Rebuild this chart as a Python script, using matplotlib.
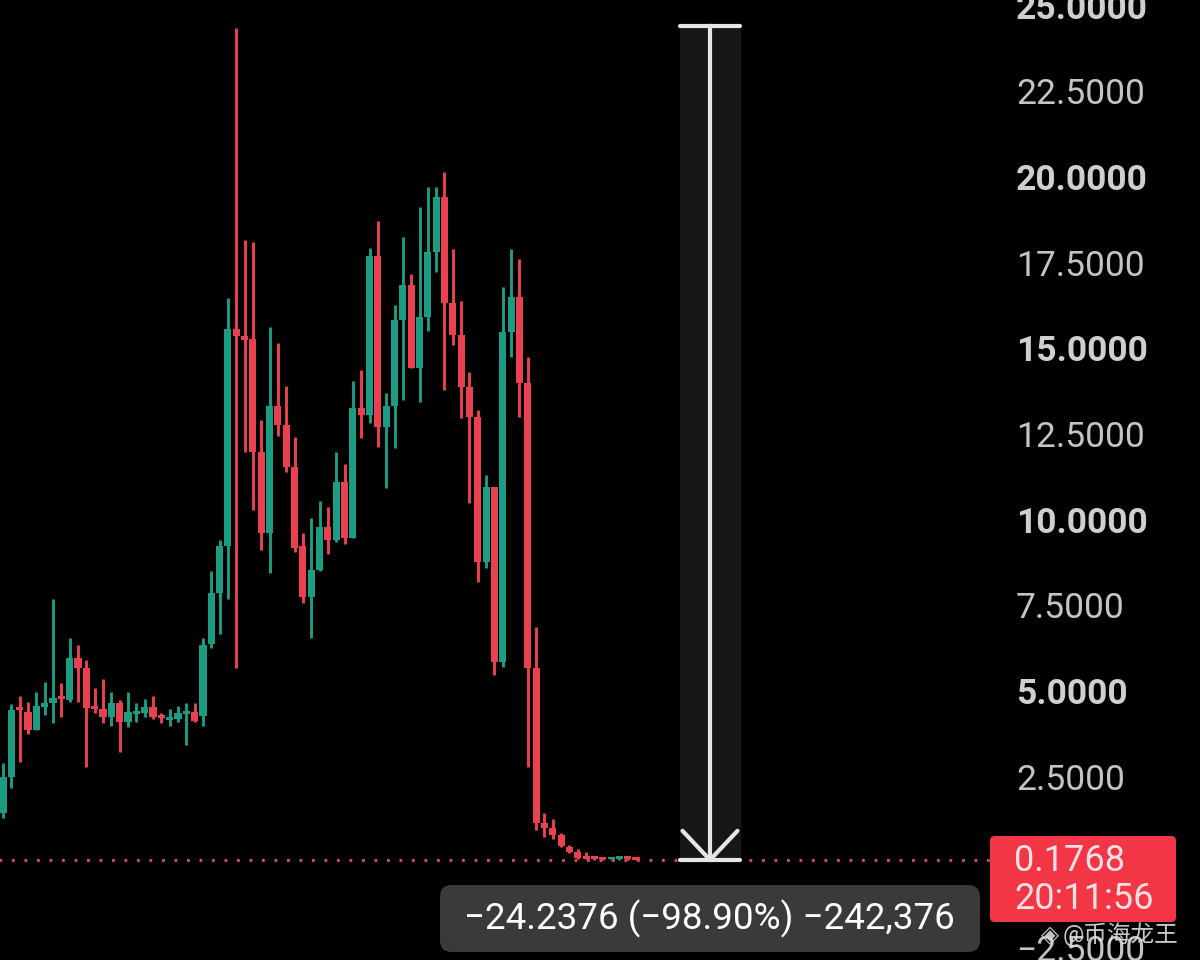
import numpy as np
import matplotlib.pyplot as plt
from matplotlib.patches import Rectangle, FancyBboxPatch
import matplotlib.transforms as mtransforms

plt.rcParams['font.family'] = ['Roboto', 'Noto Sans CJK SC', 'DejaVu Sans']

# OHLC (une bougie par pas)
opens = [1.55, 2.6, 4.6, 4.5, 3.97, 4.64, 4.76, 4.93, 4.85, 6.07,
         5.78, 4.67, 4.58, 4.35, 4.76, 4.2, 4.44, 4.47, 4.64, 4.4,
         4.26, 4.29, 4.44, 4.5, 4.38, 6.48, 7.97, 9.34, 15.68, 15.47,
         15.39, 12.09, 9.72, 13.43, 12.88, 11.65, 9.34, 7.85, 8.64, 9.9,
         9.52, 11.21, 9.58, 13.37, 13.17, 17.81, 12.82, 13.43, 15.94, 16.96,
         14.54, 16.03, 17.93, 19.53, 16.44, 15.5, 13.99, 13.11, 8.88, 11.07,
         5.96, 15.59, 16.61, 14.1, 5.78, 1.26, 1.11, 0.9, 0.55, 0.41,
         0.25, 0.21, 0.2, 0.19, 0.2, 0.21, 0.2]
closes = [2.6, 4.55, 4.55, 3.97, 4.67, 4.76, 4.9, 4.88, 6.07, 5.78,
          4.61, 4.58, 4.35, 4.76, 4.2, 4.5, 4.5, 4.64, 4.35, 4.32,
          4.35, 4.47, 4.5, 4.23, 6.45, 7.97, 9.34, 15.68, 15.47, 15.35,
          12.09, 9.72, 13.43, 12.88, 11.65, 9.28, 7.85, 8.64, 9.9, 9.52,
          11.21, 9.58, 13.37, 13.17, 17.81, 12.82, 13.43, 15.94, 16.96, 14.54,
          16.03, 17.93, 19.53, 16.44, 15.5, 13.99, 13.11, 8.88, 11.07, 5.96,
          15.59, 16.61, 14.1, 5.78, 1.26, 1.11, 0.9, 0.58, 0.41, 0.23,
          0.21, 0.2, 0.19, 0.2, 0.21, 0.2, 0.1768]
highs = [3.0, 4.73, 4.96, 4.79, 5.08, 5.37, 7.8, 5.34, 6.66, 6.45,
         6.01, 5.2, 5.46, 5.08, 4.85, 5.08, 4.76, 4.88, 4.96, 4.47,
         4.58, 4.67, 4.76, 4.76, 6.66, 8.6, 9.5, 16.58, 24.44, 18.28,
         18.2, 13.0, 15.74, 15.27, 14.0, 12.52, 9.72, 10.16, 10.66, 10.48,
         12.09, 11.74, 14.16, 14.48, 18.04, 18.83, 13.81, 16.38, 18.36, 17.28,
         19.24, 19.82, 19.8, 20.26, 17.99, 16.5, 14.42, 13.31, 11.42, 11.07,
         16.9, 18.01, 17.72, 14.86, 6.98, 1.55, 1.37, 0.95, 0.6, 0.5,
         0.42, 0.24, 0.22, 0.21, 0.22, 0.22, 0.21]
lows = [1.4, 2.28, 3.04, 3.85, 3.97, 4.41, 4.17, 4.35, 4.79, 4.79,
        2.89, 4.47, 4.17, 4.09, 3.33, 4.06, 4.2, 4.35, 4.3, 4.17,
        4.09, 4.2, 3.53, 4.2, 4.09, 6.36, 6.77, 7.8, 5.78, 12.09,
        10.4, 9.23, 8.55, 12.55, 11.5, 9.17, 7.68, 6.66, 8.6, 9.1,
        9.45, 9.4, 9.58, 12.5, 12.93, 12.23, 11.04, 12.2, 13.6, 14.54,
        13.55, 15.62, 17.34, 13.9, 15.21, 13.08, 10.6, 8.29, 8.7, 5.58,
        5.8, 14.86, 13.11, 2.89, 1.05, 0.85, 0.8, 0.55, 0.38, 0.2,
        0.19, 0.18, 0.17, 0.17, 0.18, 0.18, 0.17]

tick_values = [25, 22.5, 20, 17.5, 15, 12.5, 10, 7.5, 5, 2.5, -2.5]
tick_labels = ['25.0000', '22.5000', '20.0000', '17.5000', '15.0000', '12.5000',
               '10.0000', '7.5000', '5.0000', '2.5000', '\u22122.5000']
tick_bold = [True, False, True, False, True, False, True, False, True, False, False]

last_price = 0.1768
last_time = '20:11:56'
move = -24.2376
move_label = '\u221224.2376 (\u221298.90%) \u2212242,376'
watermark = '@币海龙王'

UP = '#1c9c82'
DOWN = '#ea4150'

fig = plt.figure(figsize=(12, 9.6), dpi=100, facecolor='black')
ax = fig.add_axes([0, 0, 1, 1])
ax.set_facecolor('black')
step = 8.33
ax.set_xlim(-3 / step, (1200 - 3) / step)
ax.set_ylim((866 - 960) / 34.27, 866 / 34.27)
ax.axis('off')

x = np.arange(len(opens))
o = np.array(opens)
c = np.array(closes)
colors = [UP if cc >= oo else DOWN for oo, cc in zip(o, c)]
ax.vlines(x, lows, highs, colors=colors, lw=2.1, zorder=2)
body_h = np.maximum(np.abs(c - o), 0.08)
ax.bar(x, body_h, bottom=np.minimum(o, c), width=0.86, color=colors, zorder=3)

# ligne pointillée du dernier prix
ax.plot([-1, 990 / step], [last_price, last_price], color='#e0505c', lw=2,
        ls=(0, (1, 3.5)), zorder=1)

# outil de mesure
x0, x1 = (680 - 3) / step, (740 - 3) / step
xm = (x0 + x1) / 2
top = last_price - move
ax.add_patch(Rectangle((x0, last_price), x1 - x0, top - last_price + 0.1,
                       color='#171717', zorder=4))
wc = '#e6e6e6'
ax.plot([x0, x1], [top + 0.1, top + 0.1], color=wc, lw=3, solid_capstyle='round', zorder=5)
ax.plot([x0, x1], [last_price, last_price], color=wc, lw=3, solid_capstyle='round', zorder=5)
ax.plot([xm, xm], [last_price, top + 0.1], color=wc, lw=3, zorder=5)
ax.plot([x0 + 0.3, xm, x1 - 0.3], [last_price + 0.85, last_price, last_price + 0.85],
        color=wc, lw=3, solid_capstyle='round', zorder=5)

# étiquettes de l'axe des prix
trans = mtransforms.blended_transform_factory(ax.transAxes, ax.transData)
for v, lab, b in zip(tick_values, tick_labels, tick_bold):
    ax.text(1016 / 1200, v, lab, transform=trans, ha='left', va='center',
            fontsize=25.5, color='#cfcfcf' if b else '#c4c4c4',
            fontweight='bold' if b else 'normal', zorder=6)

# boîte du résultat de la mesure
box = FancyBboxPatch((440 / 1200, 1 - 952 / 960), 540 / 1200, 67 / 960,
                     boxstyle='round,pad=0,rounding_size=0.01', mutation_aspect=1.25,
                     transform=fig.transFigure, facecolor='#3a3a3a', edgecolor='none',
                     zorder=7)
fig.patches.append(box)
fig.text(709 / 1200, 1 - 919 / 960, move_label, ha='center', va='center',
         fontsize=26.5, color='white', zorder=8)

# étiquette du dernier prix
lbl = FancyBboxPatch((990 / 1200, 1 - 922 / 960), 186 / 1200, 86 / 960,
                     boxstyle='round,pad=0,rounding_size=0.004', mutation_aspect=1.25,
                     transform=fig.transFigure, facecolor='#f23645', edgecolor='none',
                     zorder=7)
fig.patches.append(lbl)
fig.text(1014 / 1200, 1 - 861 / 960, f'{last_price:.4f}', ha='left', va='center',
         fontsize=26, color='#ffe0e3', zorder=8)
fig.text(1014 / 1200, 1 - 899 / 960, last_time, ha='left', va='center',
         fontsize=26, color='#ffe0e3', zorder=8)

# filigrane
fig.text(1050 / 1200, 1 - 935 / 960, '\u25c8', ha='center', va='center',
         fontsize=17, color='#d8d8d8', family=['DejaVu Sans'], alpha=0.9, zorder=9)
fig.text(1063 / 1200, 1 - 935 / 960, watermark, ha='left', va='center',
         fontsize=17, color='#e0e0e0', alpha=0.9, zorder=9)

fig.savefig('out.png', dpi=100, facecolor='black')
